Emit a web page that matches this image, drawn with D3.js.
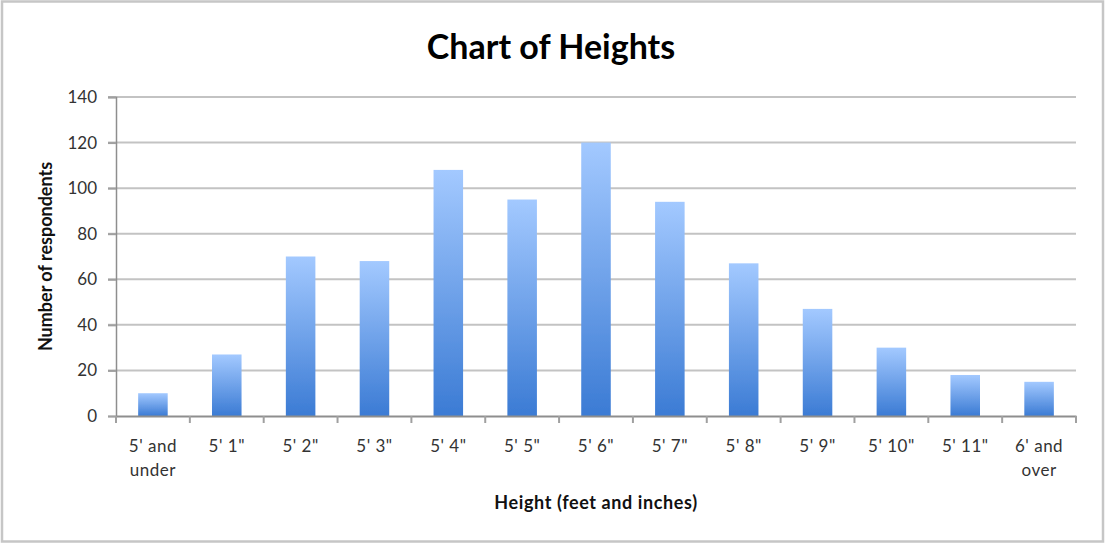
<!DOCTYPE html>
<html><head><meta charset="utf-8">
<script src="https://cdn.jsdelivr.net/npm/d3@7/dist/d3.min.js"></script>
<style>body{margin:0;background:#fff}svg{display:block}</style>
</head><body>
<svg id="c" width="1105" height="544"></svg>
<script>
const categories = ["5' and\nunder","5' 1\"","5' 2\"","5' 3\"","5' 4\"","5' 5\"","5' 6\"","5' 7\"","5' 8\"","5' 9\"","5' 10\"","5' 11\"","6' and\nover"];
const respondents = [10,27,70,68,108,95,120,94,67,47,30,18,15];
const yTicks = [0,20,40,60,80,100,120,140];
const title = "Chart of Heights";
const xTitle = "Height (feet and inches)";
const yTitle = "Number of respondents";

const svg = d3.select("#c");
const W = 1105, H = 544;
const m = {l:116, r:29, t:97, b:128};
const font = "Lato, 'Open Sans', sans-serif";

svg.append("rect").attr("x",2).attr("y",1.5).attr("width",W-4).attr("height",H-4)
  .attr("fill","#fff").attr("stroke","#c6c6c6").attr("stroke-width",2.5);

const x = d3.scaleBand().domain(categories).range([m.l, W-m.r]).paddingInner(0.6).paddingOuter(0.3);
const xb = d3.scaleBand().domain(categories).range([m.l, W-m.r]);
const y = d3.scaleLinear().domain([0,140]).range([H-m.b, m.t]);

const defs = svg.append("defs");
const g = defs.append("linearGradient").attr("id","bg").attr("x1",0).attr("y1",0).attr("x2",0).attr("y2",1);
g.append("stop").attr("offset","0%").attr("stop-color","#a3c9ff");
g.append("stop").attr("offset","100%").attr("stop-color","#3b7bd4");
const f = defs.append("filter").attr("id","soft").attr("x","-10%").attr("y","-10%").attr("width","120%").attr("height","120%");
f.append("feGaussianBlur").attr("stdDeviation",0.6);

// gridlines
svg.append("g").selectAll("line").data(yTicks.filter(d=>d>0)).join("line")
  .attr("x1",m.l-8).attr("x2",W-m.r).attr("y1",d=>y(d)).attr("y2",d=>y(d))
  .attr("stroke","#c3c3c3").attr("stroke-width",2);

// y axis
const ya = svg.append("g").attr("transform",`translate(${m.l},0)`)
  .call(d3.axisLeft(y).tickValues(yTicks).tickSize(8).tickPadding(11));
ya.select(".domain").attr("stroke","#8e8e8e").attr("stroke-width",1.5);
ya.selectAll(".tick line").attr("stroke","#a0a0a0").attr("stroke-width",2);
ya.selectAll("text").attr("font-family",font).attr("font-size",17).attr("fill","#333");

// bars
svg.append("g").selectAll("rect").data(respondents).join("rect")
  .attr("x",(d,i)=>x(categories[i])).attr("width",x.bandwidth())
  .attr("y",d=>y(d)).attr("height",d=>y(0)-y(d))
  .attr("fill","url(#bg)").attr("filter","url(#soft)");

// x axis
const xa = svg.append("g").attr("transform",`translate(0,${y(0)})`)
  .call(d3.axisBottom(xb).tickSize(0).tickFormat(""));
xa.select(".domain").attr("stroke","#8e8e8e").attr("stroke-width",2);
xa.selectAll(".tick").remove();
const bounds = categories.map(c=>xb(c)).concat([W-m.r]);
xa.selectAll("line.t").data(bounds).join("line").attr("class","t")
  .attr("x1",d=>d).attr("x2",d=>d).attr("y1",0).attr("y2",7)
  .attr("stroke","#a0a0a0").attr("stroke-width",2);

const lab = svg.append("g").selectAll("text").data(categories).join("text")
  .attr("x",d=>xb(d)+xb.bandwidth()/2).attr("y",y(0)+36)
  .attr("text-anchor","middle").attr("font-family",font).attr("font-size",17)
  .attr("letter-spacing",0.5).attr("fill","#333");
lab.each(function(d){
  const parts = d.split("\n");
  d3.select(this).selectAll("tspan").data(parts).join("tspan")
    .attr("x",xb(d)+xb.bandwidth()/2).attr("dy",(p,i)=>i?24:0).text(p=>p);
});

// titles
svg.append("text").attr("x",551).attr("y",59).attr("text-anchor","middle")
  .attr("font-family",font).attr("font-weight","bold").attr("font-size",34).attr("fill","#000").text(title);
svg.append("text").attr("x",(m.l+W-m.r)/2).attr("y",509).attr("text-anchor","middle")
  .attr("font-family",font).attr("font-weight","bold").attr("font-size",18).attr("letter-spacing",0.6)
  .attr("fill","#111").text(xTitle);
svg.append("text").attr("transform",`translate(52,${(y(0)+y(140))/2}) rotate(-90)`).attr("text-anchor","middle")
  .attr("font-family",font).attr("font-weight","bold").attr("font-size",18).attr("fill","#111").text(yTitle);
</script>
</body></html>
